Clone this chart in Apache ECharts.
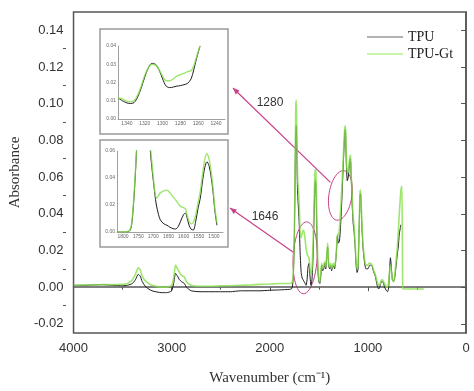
<!DOCTYPE html>
<html>
<head>
<meta charset="utf-8">
<script src="https://cdn.jsdelivr.net/npm/echarts@6/dist/echarts.min.js"></script>
<style>
html,body{margin:0;padding:0;background:#fff;}
#chart{width:474px;height:391px;}
</style>
</head>
<body>
<div id="chart"></div>
<script>
// FTIR spectra, TPU vs TPU-Gt
var wn = [4000,3900,3800,3700,3600,3500,3450,3400,3370,3340,3320,3300,3260,3200,3100,3050,3000,2980,2960,2940,2920,2900,2870,2850,2800,2700,2600,2500,2400,2300,2200,2100,2000,1900,1800,1780,1770,1760,1750,1745,1740,1735,1730,1725,1720,1715,1710,1700,1690,1680,1670,1660,1650,1640,1630,1620,1610,1600,1590,1580,1570,1560,1550,1545,1540,1535,1530,1525,1520,1510,1500,1490,1480,1470,1460,1450,1440,1430,1420,1410,1400,1390,1380,1370,1360,1350,1340,1330,1320,1310,1300,1290,1280,1270,1260,1250,1240,1235,1230,1225,1220,1210,1200,1190,1180,1175,1170,1160,1150,1140,1130,1120,1110,1100,1090,1080,1075,1070,1060,1050,1040,1030,1020,1010,1000,990,980,970,960,950,940,930,920,910,900,890,880,870,860,850,840,830,820,810,800,790,780,770,760,750,740,730,720,710,700,690,680,670,665,660,653,648,645,640,600,500,430];
var tpu = [0.001,0.001,0.0012,0.0013,0.001,0.0008,0.001,0.002,0.004,0.007,0.006,0.003,0.000,-0.002,-0.003,-0.003,-0.002,0.002,0.0075,0.006,0.004,0.003,0.002,0.000,-0.002,-0.0025,-0.0025,-0.0025,-0.0025,-0.002,-0.002,-0.002,-0.0017,-0.0015,-0.0012,-0.001,0.000,0.006,0.025,0.045,0.07,0.085,0.088,0.078,0.06,0.05,0.05,0.035,0.018,0.008,0.005,0.004,0.003,0.002,0.001,0.004,0.011,0.013,0.006,0.001,0.004,0.015,0.035,0.047,0.055,0.058,0.056,0.045,0.03,0.01,0.003,0.002,0.006,0.012,0.009,0.010,0.013,0.010,0.016,0.022,0.012,0.010,0.012,0.009,0.011,0.012,0.010,0.013,0.020,0.028,0.024,0.025,0.032,0.042,0.055,0.068,0.080,0.085,0.086,0.080,0.068,0.058,0.060,0.066,0.070,0.068,0.060,0.045,0.035,0.030,0.022,0.012,0.008,0.010,0.030,0.050,0.051,0.046,0.032,0.022,0.016,0.012,0.010,0.010,0.010,0.011,0.012,0.012,0.012,0.010,0.008,0.007,0.005,0.002,0.000,-0.001,0.000,0.002,0.003,0.003,0.002,0.000,-0.001,-0.002,-0.0025,-0.001,0.008,0.016,0.010,0.004,0.003,0.004,0.008,0.013,0.018,0.022,0.029,0.032,0.034,null,null,null,null,null,null,null,null];
var tpuGt = [0.001,0.0012,0.0012,0.0014,0.0013,0.0015,0.002,0.004,0.007,0.0105,0.0095,0.006,0.003,0.001,0.0,0.0,0.001,0.005,0.012,0.010,0.008,0.0065,0.0055,0.003,0.001,0.0005,0.0005,0.0007,0.0008,0.001,0.0012,0.0015,0.0017,0.002,0.002,0.002,0.003,0.008,0.03,0.05,0.075,0.098,0.102,0.088,0.07,0.058,0.055,0.045,0.03,0.027,0.029,0.031,0.030,0.026,0.021,0.018,0.017,0.016,0.010,0.007,0.010,0.022,0.042,0.053,0.062,0.064,0.063,0.052,0.035,0.012,0.004,0.003,0.008,0.013,0.010,0.012,0.014,0.011,0.017,0.024,0.013,0.011,0.013,0.010,0.012,0.013,0.011,0.014,0.021,0.029,0.028,0.032,0.040,0.050,0.060,0.072,0.083,0.087,0.088,0.083,0.072,0.062,0.063,0.068,0.072,0.070,0.062,0.048,0.038,0.033,0.024,0.014,0.010,0.012,0.032,0.052,0.053,0.048,0.034,0.024,0.018,0.014,0.012,0.012,0.012,0.013,0.013,0.013,0.012,0.011,0.009,0.008,0.006,0.004,0.002,0.001,0.001,0.003,0.004,0.004,0.003,0.002,0.001,0.000,0.000,0.002,0.008,0.012,0.008,0.004,0.003,0.005,0.010,0.016,0.022,0.030,0.040,0.048,0.052,0.054,0.055,0.02,0.0,-0.001,-0.001,-0.001,-0.001];

// inset 1 (1280 region)
var in1Wn = [1350,1345,1340,1336,1332,1328,1324,1320,1316,1312,1308,1304,1300,1296,1292,1288,1284,1280,1276,1272,1268,1265,1262,1258];
var in1Tpu = [0.0115,0.010,0.0088,0.0085,0.009,0.012,0.017,0.023,0.028,0.0305,0.030,0.027,0.022,0.018,0.0172,0.0175,0.018,0.0183,0.0188,0.0195,0.022,0.027,0.033,0.040];
var in1Gt = [0.0115,0.011,0.0098,0.0095,0.010,0.013,0.018,0.024,0.028,0.030,0.0295,0.027,0.0235,0.021,0.021,0.022,0.0235,0.0243,0.025,0.026,0.0265,0.029,0.034,0.040];

// inset 2 (1646 region)
var in2Wn = [1820,1800,1780,1772,1765,1760,1755,1750,1730,1715,1710,1705,1700,1695,1690,1683,1677,1665,1655,1645,1635,1627,1618,1610,1600,1594,1588,1582,1575,1568,1560,1552,1545,1538,1530,1523,1516,1510,1503,1497,1490];
var in2Tpu = [0.000,0.000,0.0005,0.005,0.022,0.040,0.062,0.08,0.09,0.075,0.06,0.048,0.038,0.028,0.020,0.013,0.009,0.006,0.005,0.0035,0.0025,0.0022,0.004,0.008,0.013,0.014,0.010,0.005,0.002,0.0015,0.008,0.018,0.025,0.037,0.048,0.052,0.049,0.042,0.030,0.016,0.005];
var in2Gt = [0.000,0.000,0.001,0.006,0.024,0.042,0.064,0.08,0.10,0.08,0.064,0.052,0.040,0.030,0.025,0.027,0.029,0.0305,0.031,0.029,0.026,0.024,0.021,0.019,0.018,0.017,0.012,0.008,0.006,0.007,0.013,0.022,0.030,0.042,0.054,0.058,0.054,0.046,0.033,0.018,0.007];

var yLabelVals = [-0.02,0,0.02,0.04,0.06,0.08,0.10,0.12,0.14];
var yMinorVals = [-0.01,0.01,0.03,0.05,0.07,0.09,0.11,0.13];

var black = '#1e1e1e';
var green = '#86e04a';
var magenta = '#c8418a';
var axisCol = '#555';

function pairs(x, y) {
	return x.map(function (v, i) { return [v, y[i]]; });
}

var chart = echarts.init(document.getElementById('chart'), null, {renderer: 'canvas'});

var tinyLabel = {fontSize: 5, color: '#666', fontFamily: 'Liberation Sans', margin: 2};

option = {
	animation: false,
	backgroundColor: '#fff',
	grid: [
		//主图，带边框
		{left: 66, right: 8, top: 12, bottom: 57, show: true, borderColor: axisCol, borderWidth: 1.5, backgroundColor: 'transparent'},
		{left: 118, right: 249, top: 46, bottom: 272},
		{left: 117, right: 251, top: 151, bottom: 159}
	],
	legend: {
		orient: 'vertical',
		left: 362,
		top: 25,
		itemGap: 3,
		itemWidth: 36,
		itemHeight: 1.5,
		icon: 'rect',
		textStyle: {fontFamily: 'Liberation Serif', fontSize: 14, color: '#222'},
		data: [
			{name: 'TPU', itemStyle: {color: '#9a9a9a'}},
			{name: 'TPU-Gt', itemStyle: {color: '#b8f08a'}}
		]
	},
	xAxis: [
		{
			gridIndex: 0, type: 'value', min: 0, max: 4000, interval: 1000, inverse: true,
			name: 'Wavenumber (cm⁻¹)', nameLocation: 'middle', nameGap: 38,
			nameTextStyle: {fontFamily: 'Liberation Serif', fontSize: 15, color: '#333'},
			axisLine: {lineStyle: {color: axisCol, width: 1.5}},
			axisTick: {inside: false, length: 4, lineStyle: {color: axisCol}},
			minorTick: {show: true, splitNumber: 2, length: 2.5, lineStyle: {color: axisCol}},
			axisLabel: {fontFamily: 'Liberation Sans', fontSize: 13, color: '#333', margin: 9, formatter: function (v) { return String(v); }},
			splitLine: {show: false}
		},
		{
			gridIndex: 1, type: 'value', min: 1230, max: 1350, interval: 10, inverse: true,
			axisLine: {lineStyle: {color: '#888', width: 0.8}},
			axisTick: {show: false},
			axisLabel: Object.assign({}, tinyLabel, {formatter: function (v) { return v % 20 === 0 ? String(v) : ''; }}),
			splitLine: {show: false}
		},
		{
			gridIndex: 2, type: 'value', min: 1470, max: 1820, interval: 10, inverse: true,
			axisLine: {lineStyle: {color: '#888', width: 0.8}},
			axisTick: {show: false},
			axisLabel: Object.assign({}, tinyLabel, {formatter: function (v) { return v % 50 === 0 ? String(v) : ''; }}),
			splitLine: {show: false}
		}
	],
	yAxis: [
		{
			gridIndex: 0, type: 'value', min: -0.025, max: 0.15,
			name: 'Absorbance', nameLocation: 'middle', nameGap: 49,
			nameTextStyle: {fontFamily: 'Liberation Serif', fontSize: 15, color: '#333'},
			axisLine: {show: true, lineStyle: {color: axisCol, width: 1.5}},
			axisTick: {show: true, length: 5, customValues: yLabelVals, lineStyle: {color: axisCol}},
			axisLabel: {
				fontFamily: 'Liberation Sans', fontSize: 13, color: '#333', margin: 10,
				customValues: yLabelVals,
				formatter: function (v) { return v.toFixed(2); }
			},
			splitLine: {show: false}
		},
		{
			// 次刻度：放到右侧再平移回左边，刻度朝外
			gridIndex: 0, type: 'value', min: -0.025, max: 0.15, position: 'right', offset: -400,
			axisLine: {show: false},
			axisTick: {show: true, inside: true, length: 3, customValues: yMinorVals, lineStyle: {color: axisCol}},
			axisLabel: {show: false}, splitLine: {show: false}
		},
		{
			gridIndex: 1, type: 'value', min: 0, max: 0.04, interval: 0.01,
			axisLine: {show: true, lineStyle: {color: '#888', width: 0.8}},
			axisTick: {show: false},
			axisLabel: Object.assign({}, tinyLabel, {formatter: function (v) { return v.toFixed(2); }}),
			splitLine: {show: false}
		},
		{
			gridIndex: 2, type: 'value', min: 0, max: 0.06, interval: 0.02,
			axisLine: {show: true, lineStyle: {color: '#888', width: 0.8}},
			axisTick: {show: false},
			axisLabel: Object.assign({}, tinyLabel, {formatter: function (v) { return v.toFixed(2); }}),
			splitLine: {show: false}
		}
	],
	series: [
		{name: 'TPU', type: 'line', xAxisIndex: 0, yAxisIndex: 0, data: pairs(wn, tpu), showSymbol: false, smooth: 0.2, lineStyle: {color: black, width: 1}, itemStyle: {color: black}},
		{name: 'TPU-Gt', type: 'line', xAxisIndex: 0, yAxisIndex: 0, data: pairs(wn, tpuGt), showSymbol: false, smooth: 0.2, lineStyle: {color: green, width: 1.6, opacity: 0.8}, itemStyle: {color: green}},
		{name: 'TPU', type: 'line', xAxisIndex: 1, yAxisIndex: 2, data: pairs(in1Wn, in1Tpu), showSymbol: false, smooth: 0.3, lineStyle: {color: black, width: 1}},
		{name: 'TPU-Gt', type: 'line', xAxisIndex: 1, yAxisIndex: 2, data: pairs(in1Wn, in1Gt), showSymbol: false, smooth: 0.3, lineStyle: {color: green, width: 1.4, opacity: 0.8}},
		{name: 'TPU', type: 'line', xAxisIndex: 2, yAxisIndex: 3, data: pairs(in2Wn, in2Tpu), showSymbol: false, smooth: 0.3, lineStyle: {color: black, width: 1}},
		{name: 'TPU-Gt', type: 'line', xAxisIndex: 2, yAxisIndex: 3, data: pairs(in2Wn, in2Gt), showSymbol: false, smooth: 0.3, lineStyle: {color: green, width: 1.4, opacity: 0.8}}
	]
};
chart.setOption(option);

// 椭圆和箭头
function ellipsePts(cx, cy, rx, ry, rot) {
	var pts = [];
	var c = Math.cos(rot), s = Math.sin(rot);
	for (var i = 0; i < 48; i++) {
		var t = i / 48 * Math.PI * 2;
		var x = rx * Math.cos(t), y = ry * Math.sin(t);
		pts.push([cx + x * c - y * s, cy + x * s + y * c]);
	}
	return pts;
}
function arrowHead(tip, from, size) {
	var a = Math.atan2(tip[1] - from[1], tip[0] - from[0]);
	return [
		tip,
		[tip[0] - size * Math.cos(a - 0.4), tip[1] - size * Math.sin(a - 0.4)],
		[tip[0] - size * Math.cos(a + 0.4), tip[1] - size * Math.sin(a + 0.4)]
	];
}

var c1 = chart.convertToPixel({xAxisIndex: 0, yAxisIndex: 0}, [1280, 0.050]);
var c2 = chart.convertToPixel({xAxisIndex: 0, yAxisIndex: 0}, [1640, 0.016]);
var a1s = [c1[0] - 10, c1[1] - 13], a1e = [233, 88];
var a2s = [c2[0] - 11, c2[1] - 5], a2e = [230, 208];

chart.setOption({
	graphic: [
		{type: 'rect', shape: {x: 100, y: 29, width: 128, height: 105}, style: {fill: null, stroke: '#999', lineWidth: 1.5}},
		{type: 'rect', shape: {x: 100, y: 140, width: 128, height: 107}, style: {fill: null, stroke: '#999', lineWidth: 1.5}},
		{type: 'polygon', shape: {points: ellipsePts(c1[0], c1[1], 11.5, 25, 0.15)}, style: {fill: null, stroke: magenta, lineWidth: 1}},
		{type: 'polygon', shape: {points: ellipsePts(c2[0], c2[1], 12, 36, 0.05)}, style: {fill: null, stroke: magenta, lineWidth: 1}},
		{type: 'line', shape: {x1: a1s[0], y1: a1s[1], x2: a1e[0], y2: a1e[1]}, style: {stroke: magenta, lineWidth: 1.2}},
		{type: 'polygon', shape: {points: arrowHead(a1e, a1s, 7)}, style: {fill: magenta}},
		{type: 'line', shape: {x1: a2s[0], y1: a2s[1], x2: a2e[0], y2: a2e[1]}, style: {stroke: magenta, lineWidth: 1.2}},
		{type: 'polygon', shape: {points: arrowHead(a2e, a2s, 7)}, style: {fill: magenta}},
		{type: 'text', x: 270, y: 103, style: {text: '1280', fill: '#333', font: '12px "Liberation Sans"', align: 'center', verticalAlign: 'middle'}},
		{type: 'text', x: 265, y: 217, style: {text: '1646', fill: '#333', font: '12px "Liberation Sans"', align: 'center', verticalAlign: 'middle'}}
	]
});
</script>
</body>
</html>
